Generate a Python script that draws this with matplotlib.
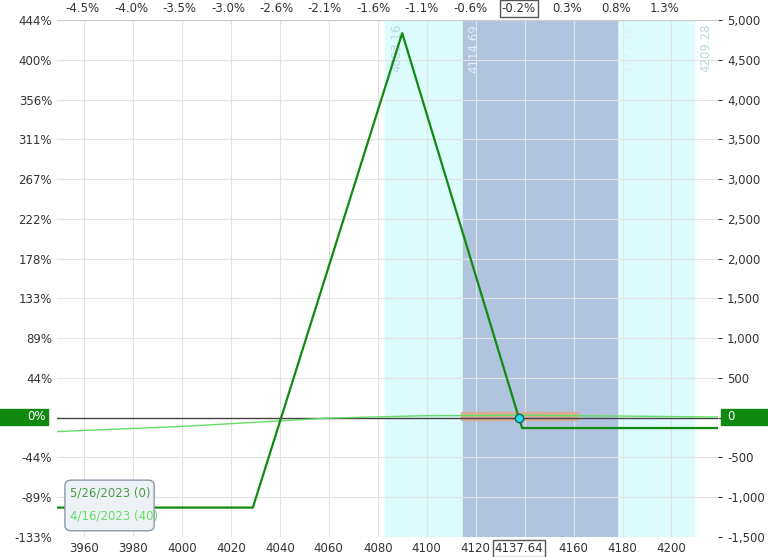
import matplotlib
matplotlib.use("Agg")
import matplotlib.pyplot as plt
from matplotlib.patches import FancyBboxPatch

exp_x = [3949, 4029, 4090, 4137.64, 4139, 4219]
exp_y = [-1130, -1130, 4835, 0, -130, -130]
t0_x = [3949, 4000, 4060, 4100, 4140, 4180, 4219]
t0_y = [-175, -110, -5, 25, 30, 20, 8]
price = 4137.64
outer = (4083.16, 4209.28)
inner = (4114.69, 4177.75)
xticks = [3960, 3980, 4000, 4020, 4040, 4060, 4080, 4100, 4120, 4140, 4160, 4180, 4200]
yticks = list(range(-1500, 5001, 500))
pct_labels = ["-133%", "-89%", "-44%", "0%", "44%", "89%", "133%", "178%", "222%",
              "267%", "311%", "356%", "400%", "444%"]
top_labels = ["-4.5%", "-4.0%", "-3.5%", "-3.0%", "-2.6%", "-2.1%", "-1.6%", "-1.1%",
              "-0.6%", "-0.2%", "0.3%", "0.8%", "1.3%"]

fig = plt.figure(figsize=(7.68, 5.57), dpi=100)
ax = fig.add_axes([57/768, 20/557, 661/768, 517/557])
ax.set_xlim(3949, 4219)
ax.set_ylim(-1500, 5000)
ax.axvspan(*outer, color="#dcfcfd", zorder=0)
ax.axvspan(*inner, color="#b0c4de", zorder=0)
ax.grid(color="#e2e2e2", lw=0.8, zorder=1)
ax.set_axisbelow(True)
for v, c in [(outer[0], "#b8d8e0"), (inner[0], "#e8eef6"), (inner[1], "#e8eef6"), (outer[1], "#b8d8e0")]:
    ax.text(v + 2, 4950, f"{v:.2f}", rotation=90, va="top", ha="left", fontsize=8.5, color=c)
ax.fill_between([4114, 4162], -30, 70, color="#e0a98f", alpha=0.85, zorder=2)
ax.axhline(0, color="#444444", lw=1, zorder=3)
ax.plot(t0_x, t0_y, color="#66dd66", lw=1, zorder=4)
ax.plot(exp_x, exp_y, color="#108a10", lw=1.6, zorder=5)
ax.plot([price], [0], "o", ms=6, mfc="#22e0f0", mec="#116666", zorder=6)
ax.set_xticks(xticks)
ax.set_xticklabels([("" if t == 4140 else str(t)) for t in xticks])
ax.set_yticks(yticks)
ax.set_yticklabels([("" if l == "0%" else l) for l in pct_labels])
for s in ax.spines.values():
    s.set_visible(False)
ax.tick_params(length=0, labelsize=8.5, colors="#333333")
ax2 = ax.twinx()
ax2.set_ylim(-1500, 5000)
ax2.set_yticks(yticks)
ax2.set_yticklabels([("" if v == 0 else f"{v:,}") for v in yticks])
ax2.tick_params(length=3, labelsize=8.5, colors="#333333")
for s in ax2.spines.values():
    s.set_visible(False)
ax3 = ax.twiny()
ax3.set_xlim(3949, 4219)
ax3.set_xticks([price - 19.8 * 9 + 19.8 * k for k in range(len(top_labels))])
ax3.set_xticklabels(top_labels)
ax3.tick_params(length=0, labelsize=8.5, colors="#333333")
for s in ax3.spines.values():
    s.set_visible(False)
ax3.spines["top"].set_visible(True)
ax3.spines["top"].set_color("#cccccc")
ax3.get_xticklabels()[9].set_bbox(dict(boxstyle="square,pad=0.15", fc="white", ec="#555"))
# zero labels
fig.patches.append(plt.Rectangle((0, 1 - 425/557), 48/768, 16/557, transform=fig.transFigure, color="#118811"))
fig.patches.append(plt.Rectangle((721/768, 1 - 425/557), 47/768, 16/557, transform=fig.transFigure, color="#118811"))
fig.text(46/768, 1 - 417/557, "0%", color="white", ha="right", va="center", fontsize=8.5)
fig.text(727/768, 1 - 417/557, "0", color="white", ha="left", va="center", fontsize=8.5)
ax.text(price, -1560, "4137.64", ha="center", va="top", fontsize=8.5, color="#333",
        bbox=dict(boxstyle="square,pad=0.15", fc="white", ec="#555"), clip_on=False)
box = FancyBboxPatch((0.012, 0.012), 0.135, 0.098, boxstyle="round,pad=0,rounding_size=0.01",
                     transform=ax.transAxes, fc="#eef2f6", ec="#8899aa", lw=1, zorder=7)
ax.add_patch(box)
ax.text(0.02, 0.085, "5/26/2023 (0)", transform=ax.transAxes, color="#4a9a4a", fontsize=8.5, va="center", zorder=8)
ax.text(0.02, 0.04, "4/16/2023 (40)", transform=ax.transAxes, color="#66dd66", fontsize=8.5, va="center", zorder=8)
fig.savefig("out.png", dpi=100)
